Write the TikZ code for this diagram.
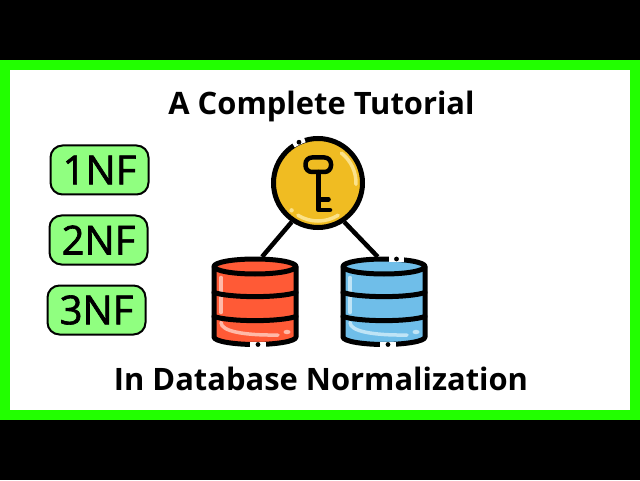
\documentclass[tikz,border=0pt]{standalone}
\usepackage{fontspec}
\setmainfont{Open Sans}
\newfontfamily\nffont[FakeBold=1.6]{Open Sans}
\usepackage{tikz}

\definecolor{framegreen}{HTML}{22FF00}
\definecolor{boxgreen}{HTML}{90FF80}
\definecolor{coinyellow}{HTML}{F0BC22}
\definecolor{coinshine}{HTML}{FBE28A}
\definecolor{dbred}{HTML}{FF5A36}
\definecolor{redshine}{HTML}{FFB9A8}
\definecolor{dbblue}{HTML}{6FBEE9}
\definecolor{blueshine}{HTML}{BFE4F6}

% one database drum, drawn round its centre: fill colour, shine colour
\newcommand{\dbstack}[3]{
  \begin{scope}[shift={#1},line width=5pt,line cap=round,line join=round]
    \draw[fill=#2] (-41,35) -- (-41,-35.5) .. controls (-41,-40) and (-20,-43) .. (0,-43)
      .. controls (20,-43) and (41,-40) .. (41,-35.5) -- (41,35) -- cycle;
    \draw[fill=#2] (0,35) ellipse (41 and 7.5);
    \draw[#3,line width=3.5pt] (-34,24) -- (-34,10);
    \draw[#3,line width=3.5pt] (-34,4) -- (-34,-11);
    \draw[#3,line width=3.5pt] (-34,-21) .. controls (-34,-30) and (-10,-34) .. (23,-33.5);
    \fill[#3] (32,-30.5) ellipse (3.5 and 2.2);
    \draw (-41,9) .. controls (-25,3.5) and (25,3.5) .. (41,9);
    \draw (-41,-15) .. controls (-25,-20.5) and (25,-20.5) .. (41,-15);
  \end{scope}
}

\begin{document}
\begin{tikzpicture}[x=1pt,y=1pt,
                    title text/.style={font=\bfseries\fontsize{30.9}{36}\selectfont,inner sep=0pt},
                    nf box/.style={draw,line width=2pt,fill=boxgreen,rounded corners=12pt,
                      minimum width=98pt,minimum height=49pt,inner sep=0pt,
                      font=\nffont\fontsize{40}{44}\selectfont},
                    key coin/.style={circle,draw,line width=5pt,fill=coinyellow,
                      minimum size=89pt,inner sep=0pt},
                    db box/.style={minimum width=86pt,minimum height=89pt,inner sep=0pt},
                    link/.style={line width=4.5pt}]
  \useasboundingbox (0,0) rectangle (640,480);
  \fill[black] (0,0) rectangle (640,480);
  \fill[framegreen] (0,60) rectangle (640,420);
  \fill[white] (10,70) rectangle (630,410);

  \node[title text] (title) at (321.5,374) {A Complete Tutorial};
  \node[title text] (subtitle) at (321,101) {In Database Normalization};

  \node[nf box] (1nf) at (99.5,310) {1NF};
  \node[nf box] (2nf) at (98.5,240) {2NF};
  \node[nf box] (3nf) at (96.5,170) {3NF};

  \node[key coin] (coin) at (318,297) {};
  \node[db box] (reddb) at (255,178.5) {};
  \node[db box] (bluedb) at (384,178.5) {};

  \draw[link] (coin.236) -- (reddb.81);
  \draw[link] (coin.304) -- (bluedb.98);

  \dbstack{(255,178.5)}{dbred}{redshine}
  \dbstack{(384,178.5)}{dbblue}{blueshine}

  % gaps in the outlines
  \draw[white,line width=6pt] (318,297) ++(123:45.5) arc (123:107:45.5);
  \fill[black] (318,297) ++(115:45) circle (2.4);
  \draw[white,line width=6pt] (389,221) -- (404,221);
  \fill[black] (396.5,221) circle (2.4);
  \draw[white,line width=6pt] (250,135.5) -- (266,135.5);
  \fill[black] (258,135.5) circle (2.4);
  \draw[white,line width=6pt] (380,135.5) -- (396,135.5);
  \fill[black] (388,135.5) circle (2.4);

  % coin shine and key
  \draw[coinshine,line width=3.5pt,line cap=round] (318,297) ++(52:38) arc (52:-2:38);
  \draw[coinshine,line width=3.5pt,line cap=round] (318,297) ++(238:38) arc (238:302:38);
  \fill[coinshine] (318,297) ++(226:38) circle (2.2);
  \draw[line width=4.5pt,rounded corners=6.5pt] (305.5,308) rectangle (331,322.5);
  \draw[line width=4.5pt,line join=round,line cap=round] (318.5,308) -- (318.5,270) -- (330,270);
  \draw[line width=4.5pt,line cap=round] (318.5,280.5) -- (328.5,280.5);
\end{tikzpicture}
\end{document}
